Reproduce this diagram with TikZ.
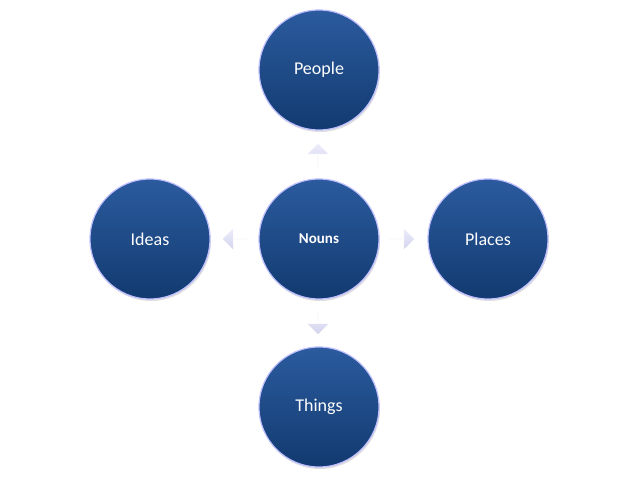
\documentclass[tikz,border=0pt]{standalone}
\usepackage{fontspec}
\setmainfont{Carlito}
\usetikzlibrary{shapes.arrows,shadows}
\begin{document}
\begin{tikzpicture}[x=1pt,y=-1pt,
  ball/.style={circle,minimum size=120pt,inner sep=0pt,top color=blue!45!black!70!cyan!80,bottom color=blue!60!black,
     draw=blue!25!white,line width=1.2pt,text=white,font=\fontsize{18}{21}\selectfont,
     drop shadow={opacity=0.25,shadow xshift=1pt,shadow yshift=-2pt}},
  blockarrow/.style={single arrow,inner sep=0pt,minimum width=22pt,minimum height=25pt,
     single arrow head extend=8pt,single arrow head indent=0pt,
     top color=gray!25!blue!8,bottom color=gray!60!blue!25,draw=white,line width=0.6pt}]
\useasboundingbox (0,0) rectangle (638,478);
\definecolor{ballA}{HTML}{2B5B9E}
\definecolor{ballB}{HTML}{123A70}
\tikzset{ball/.append style={top color=ballA,bottom color=ballB}}
\node[ball] (people) at (319,70) {People};
\node[ball,font=\fontsize{15}{18}\selectfont\bfseries] (nouns) at (319,239) {Nouns};
\node[ball] (ideas) at (150,239) {Ideas};
\node[ball] (places) at (488,239) {Places};
\node[ball] (things) at (319,407) {Things};
\node[blockarrow,shape border rotate=90] (aup) at (318,156) {};
\node[blockarrow,shape border rotate=270] (adown) at (318,322) {};
\node[blockarrow,shape border rotate=180] (aleft) at (235,239) {};
\node[blockarrow,shape border rotate=0] (aright) at (402,239) {};
\end{tikzpicture}
\end{document}
